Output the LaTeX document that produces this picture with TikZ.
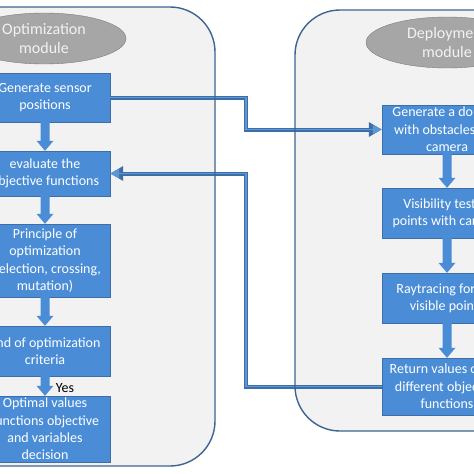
\documentclass[tikz,border=0pt]{standalone}
\usepackage{fontspec}
\setmainfont{Carlito}
\usetikzlibrary{calc,shapes.geometric,arrows.meta}
\definecolor{boxblue}{RGB}{74,141,214}
\definecolor{boxedge}{RGB}{62,110,168}
\definecolor{linkblue}{RGB}{91,152,214}
\definecolor{panelgray}{RGB}{242,242,242}
\definecolor{paneledge}{RGB}{62,100,145}
\definecolor{ovalgray}{RGB}{166,166,166}
\definecolor{ovaledge}{RGB}{125,125,125}

\begin{document}
\begin{tikzpicture}[x=1pt,y=-1pt]
\tikzstyle{panel}=[rounded corners=45pt]%
\tikzstyle{stepbox}=[draw=boxedge,fill=boxblue,text=white,align=center,minimum width=130pt,inner xsep=2pt,inner ysep=0pt,font=\fontsize{14pt}{17.4pt}\selectfont]%
\tikzstyle{oval}=[ellipse,draw=ovaledge,fill=ovalgray,text=panelgray,align=center,minimum width=164pt,minimum height=51pt,inner sep=0pt,font=\fontsize{16pt}{19pt}\selectfont]%
\tikzstyle{link}=[draw=linkblue,line width=1.6pt,-{Triangle[width=9pt,length=9pt]},preaction={draw=boxedge,line width=4pt,-{Triangle[width=14pt,length=13pt]}}]%
\useasboundingbox (0,0) rectangle (474,474);
\clip (0,0) rectangle (474,474);
\fill[white] (0,0) rectangle (474,474);
% modules
\fill[panelgray,panel] (-60,7) rectangle (215,466);
\fill[panelgray,panel] (295,10) rectangle (540,431);
% optimization column
\node[oval] (optmod) at (44,38.5) {Optimization\\module};
\node[stepbox,minimum height=49pt] (gen) at (45,97.5) {Generate sensor\\positions};
\node[stepbox,minimum height=45pt] (eval) at (45,173.5) {evaluate the\\objective functions};
\node[stepbox,minimum height=73pt] (prin) at (45,260.5) {Principle of\\optimization\\(selection, crossing,\\mutation)};
\node[stepbox,minimum height=50pt] (endc) at (45,351) {End of optimization\\criteria};
\node[stepbox,minimum height=66pt] (opt) at (45,429) {Optimal values\\functions objective\\and variables\\decision};
\node[font=\fontsize{14pt}{17pt}\selectfont] (yes) at (65,388) {Yes};
% deployment column
\node[oval,minimum width=162pt] (depmod) at (447,42.5) {Deployment\\module};
\node[stepbox,minimum height=49pt] (dom) at (447,129.5) {Generate a domain\\with obstacles and\\camera};
\node[stepbox,minimum height=50pt] (vis) at (447,213) {Visibility test of\\points with camera};
\node[stepbox,minimum height=50pt] (ray) at (447,298) {Raytracing for the\\visible points};
\node[stepbox,minimum height=57pt] (ret) at (447,386.5) {Return values of the\\different objective\\functions};
% block arrows
\foreach \a/\b in {gen/eval,eval/prin,prin/endc,endc/opt,dom/vis,vis/ray,ray/ret} {
\fill[boxblue] ($(\a.south)+(-4.5,0)$) -- ($(\b.north)+(-4.5,-10)$) -- ($(\b.north)+(-8.5,-10)$) -- (\b.north) -- ($(\b.north)+(8.5,-10)$) -- ($(\b.north)+(4.5,-10)$) -- ($(\a.south)+(4.5,0)$) -- cycle;}
% links between modules
\coordinate (bus) at (246,0);
\draw[link] (gen.east) -- (gen.east -| bus) -- (bus |- dom.west) -- (dom.west);
\draw[link] (ret.west) -- (ret.west -| bus) -- (bus |- eval.east) -- (eval.east);
% borders
\draw[paneledge,line width=1.4pt,panel] (-60,7) rectangle (215,466);
\draw[paneledge,line width=1.4pt,panel] (295,10) rectangle (540,431);
\end{tikzpicture}
\end{document}
